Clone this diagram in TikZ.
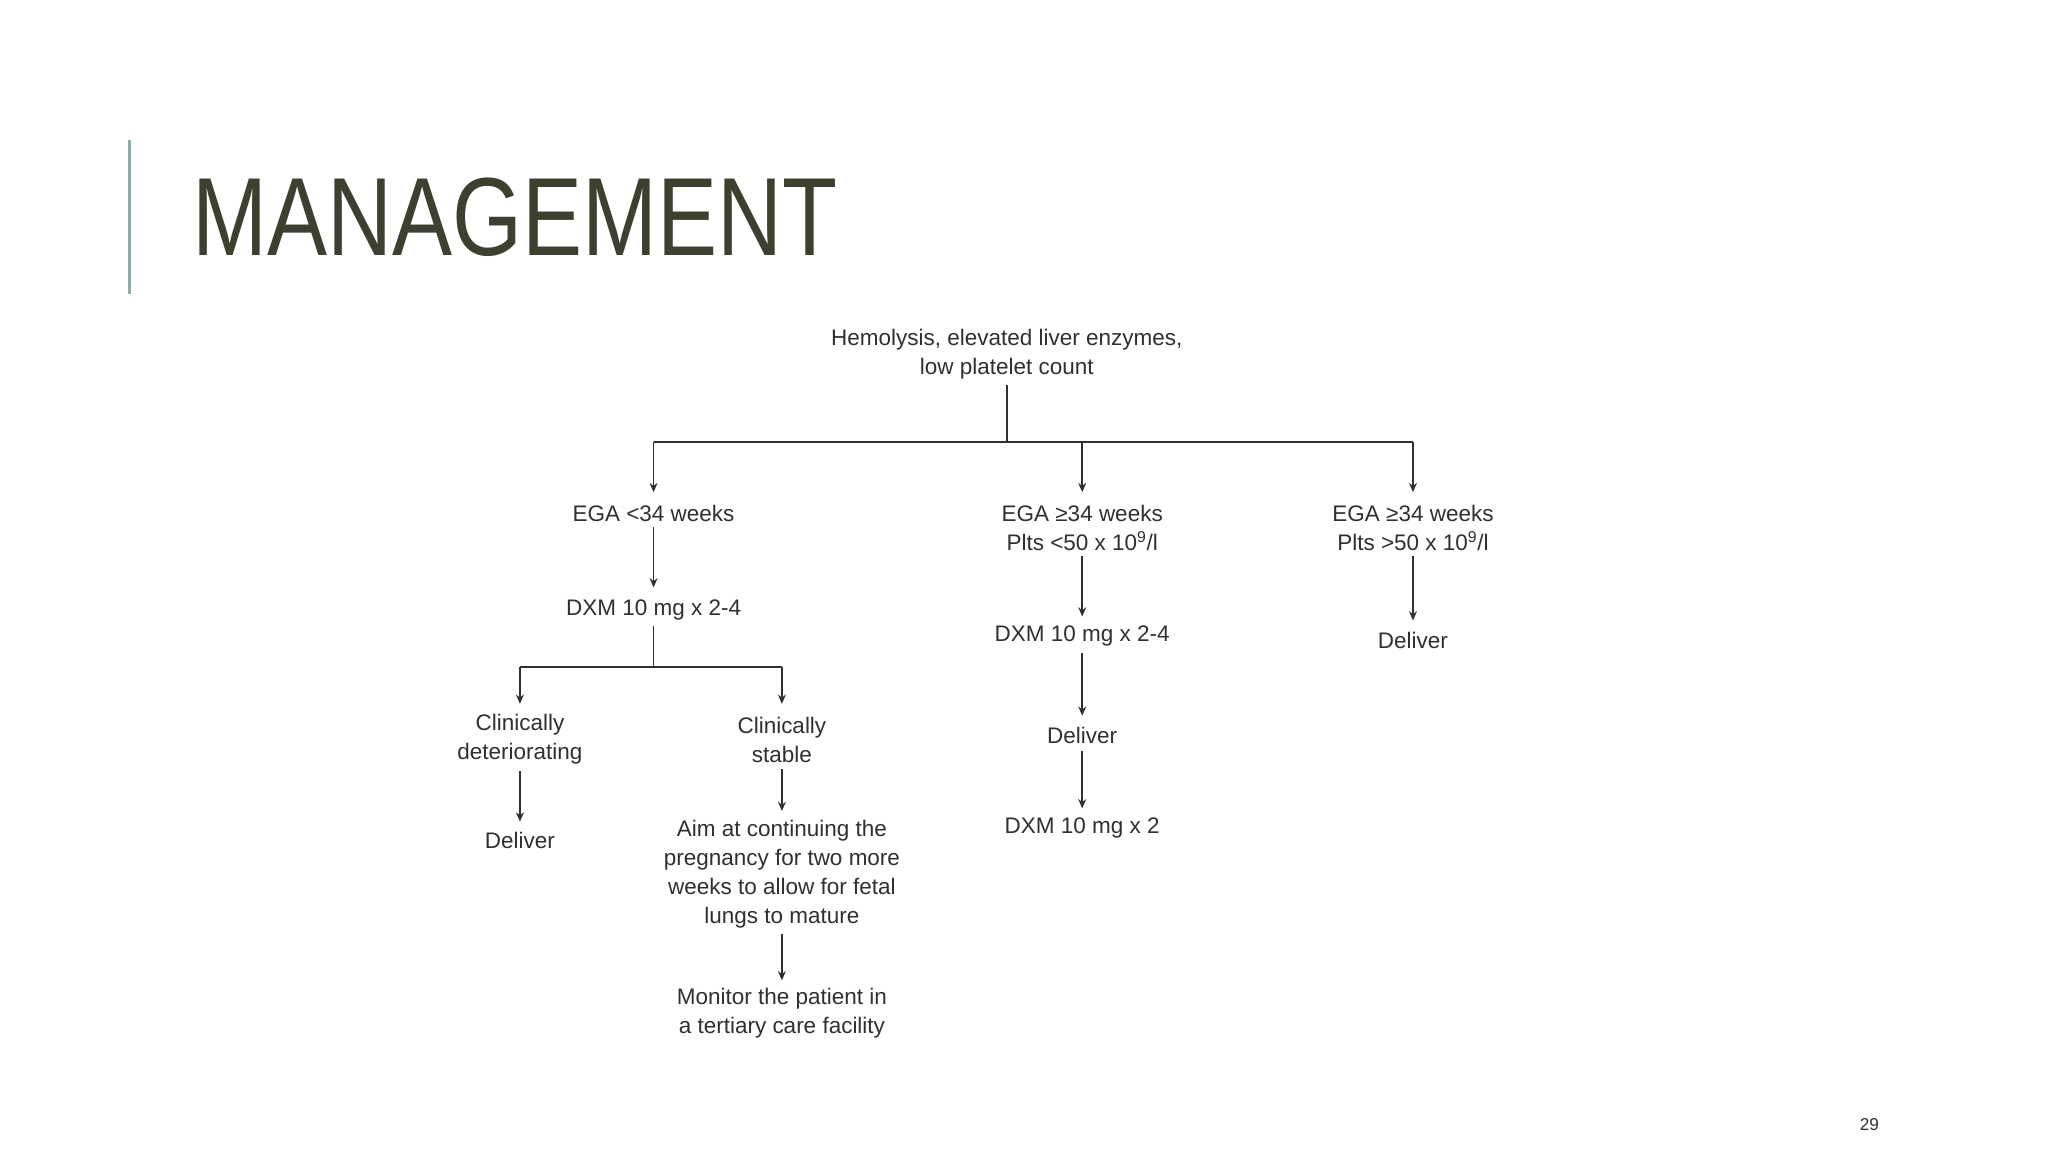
\documentclass[tikz,border=0pt]{standalone}
\usepackage{fontspec}
\setmainfont{Liberation Sans}
\usetikzlibrary{arrows.meta}
\definecolor{titlecol}{HTML}{3F3F30}
\definecolor{barcol}{HTML}{8FB0A0}
\definecolor{txt}{HTML}{303030}
\tikzset{
 lbl/.style={align=center,font=\fontsize{17}{22}\selectfont,text=txt,inner sep=0pt},
 ln/.style={draw=txt,line width=1.3pt},
 arr/.style={ln,-{Stealth[length=7pt,width=6pt]}}
}
\begin{document}
\begin{tikzpicture}[x=1pt,y=-1pt]
\useasboundingbox[fill=white] (0,0) rectangle (1548,871);
\draw[barcol,line width=1.8pt] (98,106) -- (98,222);
\node[anchor=base west,inner sep=0pt,text=titlecol,font=\fontsize{84}{84}\selectfont,xscale=0.81] (title) at (145,193) {MANAGEMENT};
\node[lbl] (top) at (761,268) {Hemolysis, elevated liver enzymes,\\low platelet count};
\node[lbl] (a1) at (494,388) {EGA <34 weeks};
\node[lbl] (a2) at (494,461) {DXM 10 mg x 2-4};
\node[lbl] (c1) at (393,559) {Clinically\\deteriorating};
\node[lbl] (c2) at (393,635) {Deliver};
\node[lbl] (s1) at (591,559) {Clinically\\stable};
\node[lbl] (s2) at (591,661) {Aim at continuing the\\pregnancy for two more\\weeks to allow for fetal\\lungs to mature};
\node[lbl] (s3) at (591,766) {Monitor the patient in\\a tertiary care facility};
\node[lbl] (b1) at (818,399) {EGA ≥34 weeks\\Plts <50 x 10\textsuperscript{9}/l};
\node[lbl] (b2) at (818,481) {DXM 10 mg x 2-4};
\node[lbl] (b3) at (818,556) {Deliver};
\node[lbl] (b4) at (818,626) {DXM 10 mg x 2};
\node[lbl] (r1) at (1068,399) {EGA ≥34 weeks\\Plts >50 x 10\textsuperscript{9}/l};
\node[lbl] (r2) at (1068,484) {Deliver};
\node[font=\fontsize{13}{13}\selectfont,text=txt] (pg) at (1413,850) {29};
\coordinate (j1) at (761,334);
\coordinate (j2) at (494,504);
\draw[ln] (top.south) ++(0,4) coordinate (t0) (t0) -- (j1);
\draw[ln] (494,334) -- (1068,334);
\draw[arr] (494,334) -- (494,372);
\draw[arr] (818,334) -- (818,372);
\draw[arr] (1068,334) -- (1068,372);
\draw[arr] (a1.south) ++(0,4) -- (494,444);
\draw[ln] (a2.south) ++(0,4) -- (j2);
\draw[ln] (393,504) -- (591,504);
\draw[arr] (393,504) -- (393,532);
\draw[arr] (591,504) -- (591,532);
\draw[arr] (c1.south) ++(0,5) -- (393,621);
\draw[arr] (s1.south) ++(0,5) -- (591,613);
\draw[arr] (s2.south) ++(0,4) -- (591,741);
\draw[arr] (b1.south) ++(0,4) -- (818,466);
\draw[arr] (b2.south) ++(0,5) -- (818,541);
\draw[arr] (b3.south) ++(0,5) -- (818,611);
\draw[arr] (r1.south) ++(0,4) -- (1068,469);
\end{tikzpicture}
\end{document}
